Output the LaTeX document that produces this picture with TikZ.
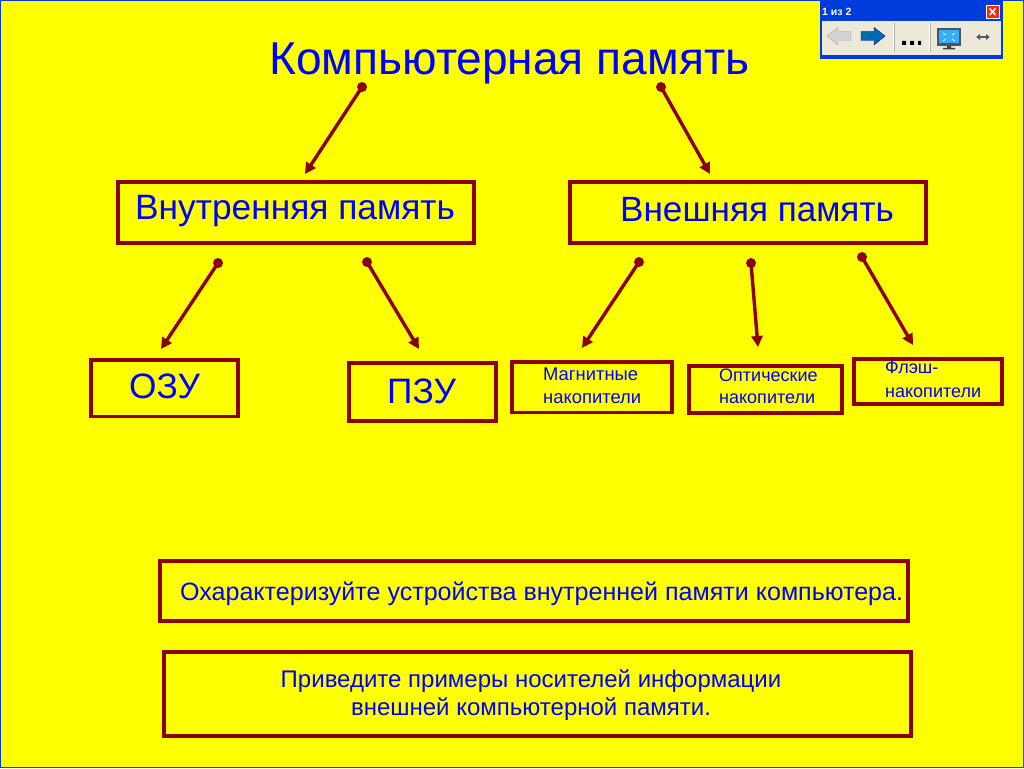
\documentclass[tikz,border=0pt]{standalone}
\usepackage{fontspec}
\setmainfont{Liberation Sans}
\usetikzlibrary{arrows.meta,calc}
\definecolor{bgy}{RGB}{255,255,0}
\definecolor{maroon}{RGB}{140,0,0}
\definecolor{txtb}{RGB}{0,0,255}
\definecolor{barb}{RGB}{0,60,220}
\definecolor{panel}{RGB}{236,233,216}
\tikzset{
 box/.style={draw=maroon,line width=3.8pt,fill=none,inner sep=0pt},
 lbl/.style={text=txtb,inner sep=0pt,align=left,anchor=west},
 conn/.style={draw=maroon,line width=3.4pt,-{Triangle[length=11pt,width=11pt]}},
 dotc/.style={circle,fill=maroon,inner sep=0pt,minimum size=10pt},
}
\newcommand{\boxat}[5]{\node[box,minimum width=#4pt,minimum height=#5pt,anchor=north west] (#1) at (#2,#3) {};}
\begin{document}
\begin{tikzpicture}[x=1pt,y=-1pt]
\useasboundingbox (0,0) rectangle (1024,768);
\fill[bgy] (0,0) rectangle (1024,768);
\draw[barb,line width=1pt] (0.5,0.5) rectangle (1023.5,767.5);
% title
\node[lbl,font=\fontsize{46.1}{52}\selectfont] (title) at (269,63) {Компьютерная память};
% boxes
\boxat{inner}{116}{180}{356}{61}
\boxat{outer}{568}{180}{356}{61}
\boxat{ozu}{89}{358}{147}{56.5}
\boxat{pzu}{347}{361}{147}{58}
\boxat{mag}{510}{360}{160}{50.5}
\boxat{opt}{687}{364}{153}{47}
\boxat{fla}{852}{357}{148}{45}
\boxat{qa}{158}{559}{748}{60}
\boxat{qb}{162}{650}{747}{84}
% labels
\node[lbl,font=\fontsize{35.3}{42}\selectfont] (tinner) at (135,211) {Внутренняя память};
\node[lbl,font=\fontsize{35.1}{42}\selectfont] (touter) at (620,210) {Внешняя память};
\node[lbl,font=\fontsize{35.3}{42}\selectfont] (tozu) at (129,386) {ОЗУ};
\node[lbl,font=\fontsize{35.3}{42}\selectfont] (tpzu) at (387,391) {ПЗУ};
\node[lbl,font=\fontsize{18.4}{21}\selectfont,align=left] (tmag) at (543,386) {Магнитные\\[2.5pt]накопители};
\node[lbl,font=\fontsize{18}{21}\selectfont,align=left] (topt) at (719,386.5) {Оптические\\[.5pt]накопители};
\node[lbl,font=\fontsize{18}{21}\selectfont,align=left] (tfla) at (885,379.5) {Флэш-\\[3pt]накопители};
\node[lbl,font=\fontsize{25.05}{30}\selectfont] (tqa) at (180,594) {Охарактеризуйте устройства внутренней памяти компьютера.};
\node[text=txtb,inner sep=0pt,align=center,font=\fontsize{24}{28}\selectfont] (tqb) at (531,695) {Приведите примеры носителей информации\\внешней компьютерной памяти.};
% connectors
\node[dotc] (d1) at (362,87) {};
\node[dotc] (d2) at (661,87) {};
\node[dotc] (d3) at (218,263) {};
\node[dotc] (d4) at (367,262) {};
\node[dotc] (d5) at (639,262) {};
\node[dotc] (d6) at (751,263) {};
\node[dotc] (d7) at (862,257) {};
\coordinate (e1) at (305,174);
\coordinate (e2) at (710,174);
\coordinate (e3) at (161,349);
\coordinate (e4) at (419,349);
\coordinate (e5) at (582,348);
\coordinate (e6) at (758,347);
\coordinate (e7) at (913,345);
\foreach \a/\b in {d1/e1,d2/e2,d3/e3,d4/e4,d5/e5,d6/e6,d7/e7}
  \draw[conn] (\a.center) -- (\b);
% toolbar
\fill[barb] (820,1) rectangle (1003,59);
\fill[panel] (822,21) rectangle (1001,55.5);
\node[text=white,font=\bfseries\fontsize{10.5}{12}\selectfont,anchor=west,inner sep=0pt] (tb) at (822,11.5) {1 из 2};
\fill[red!70!orange] (986,5.5) rectangle (999,18);
\draw[white,line width=.7pt] (986,5.5) rectangle (999,18);
\draw[white,line width=1.6pt] (989.5,8.5) -- (995.5,15) (995.5,8.5) -- (989.5,15);
\fill[gray!35,draw=gray!70] (827,36) -- (838,27.5) -- (838,31.5) -- (851,31.5) -- (851,40.5) -- (838,40.5) -- (838,45) -- cycle;
\fill[blue!40!cyan!70!black,draw=blue!60!black,line width=.4pt] (885,36) -- (874,27.5) -- (874,31.5) -- (861,31.5) -- (861,40.5) -- (874,40.5) -- (874,45) -- cycle;
\draw[white,line width=.8pt] (893.5,23) -- (893.5,52) (929.5,23) -- (929.5,52);
\draw[gray!60,line width=.6pt] (894.3,23) -- (894.3,52) (930.3,23) -- (930.3,52);
\fill[black] (902,41) rectangle (906,45) (910,41) rectangle (914,45) (918,41) rectangle (921,45);
\fill[black!70!cyan] (937,28) rectangle (961,46);
\fill[blue!40!cyan!80!white] (939,30) rectangle (959,43.5);
\fill[black!75] (947,46) rectangle (951,48) (943,48) rectangle (955,49.5);
\draw[white,line width=.8pt] (943,33) -- (946,35) (955,33) -- (952,35) (943,41) -- (946,39) (955,41) -- (952,39);
\draw[gray!70!black,line width=1.8pt,{Latex[length=4pt,width=7pt]}-{Latex[length=4pt,width=7pt]}] (976,37) -- (990,37);
\end{tikzpicture}
\end{document}
